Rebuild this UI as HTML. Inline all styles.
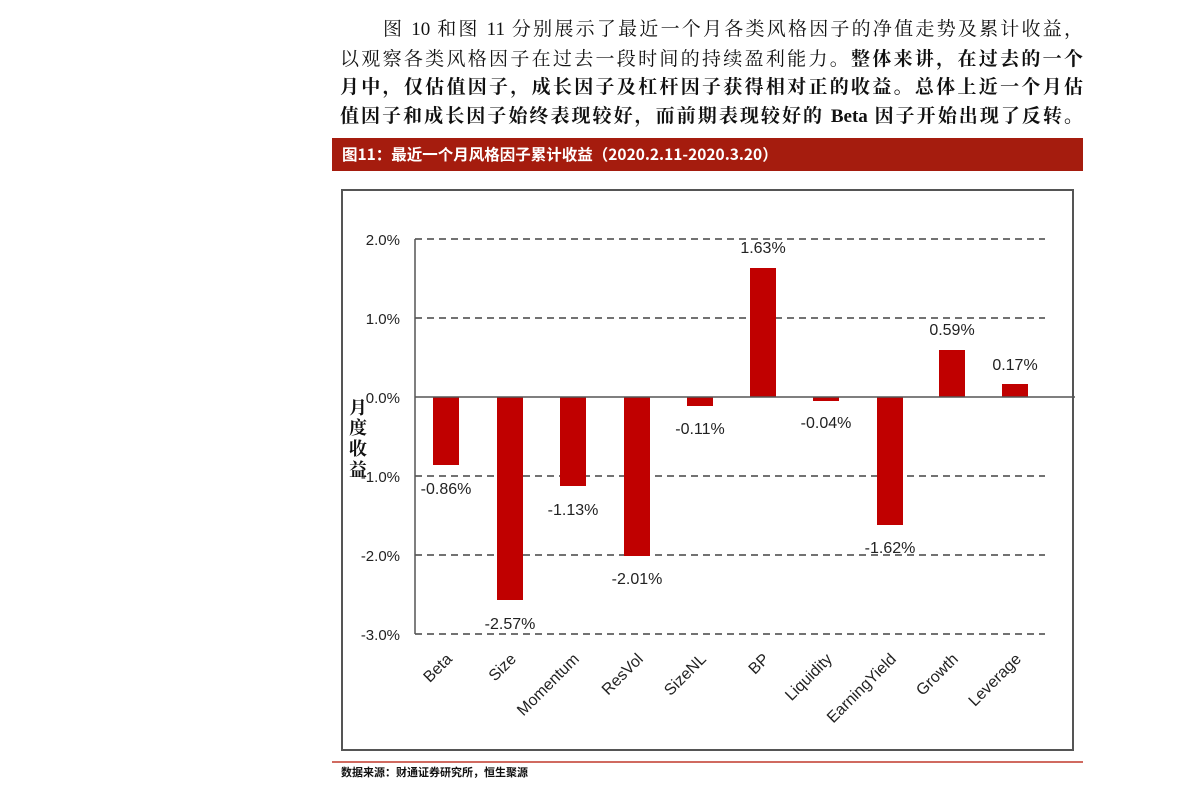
<!DOCTYPE html>
<html><head><meta charset="utf-8"><style>
body{margin:0;width:1191px;height:797px;background:#fff;position:relative;overflow:hidden;font-family:"Liberation Serif","Noto Serif CJK SC",serif}
.p{position:absolute;left:340px;width:743px;font-size:19px;color:#111;white-space:nowrap;text-align:justify;text-align-last:justify}
b{font-weight:bold}
</style></head><body>
<div class="p" style="left:383px;width:700px;top:14px">图 10 和图 11 分别展示了最近一个月各类风格因子的净值走势及累计收益，</div>
<div class="p" style="top:44px">以观察各类风格因子在过去一段时间的持续盈利能力。<b>整体来讲，在过去的一个</b></div>
<div class="p" style="top:72px"><b>月中，仅估值因子，成长因子及杠杆因子获得相对正的收益。总体上近一个月估</b></div>
<div class="p" style="top:101px"><b>值因子和成长因子始终表现较好，而前期表现较好的 Beta 因子开始出现了反转。</b></div>
<div style="position:absolute;left:332px;top:138px;width:751px;height:33px;background:#a51c0e;color:#fff;font:bold 15.5px 'Noto Sans CJK SC',sans-serif;line-height:33px;padding-left:10px;box-sizing:border-box">图11：最近一个月风格因子累计收益（2020.2.11-2020.3.20）</div>
<svg style="position:absolute;left:0;top:0" width="1191" height="797" font-family="Liberation Sans, sans-serif">
<rect x="342" y="190" width="731" height="560" fill="none" stroke="#555" stroke-width="2"/>
<g stroke="#444" stroke-width="1.5" stroke-dasharray="7,5">
<line x1="415" y1="239" x2="1045" y2="239"/><line x1="415" y1="318" x2="1045" y2="318"/>
<line x1="415" y1="476" x2="1045" y2="476"/><line x1="415" y1="555" x2="1045" y2="555"/><line x1="415" y1="634" x2="1045" y2="634"/>
</g>
<line x1="415" y1="239" x2="415" y2="634" stroke="#555" stroke-width="1.5"/>
<g font-size="15" fill="#222" text-anchor="end">
<text x="400" y="245">2.0%</text><text x="400" y="324">1.0%</text><text x="400" y="403">0.0%</text>
<text x="400" y="482">-1.0%</text><text x="400" y="561">-2.0%</text><text x="400" y="640">-3.0%</text></g>
<g fill="#c00000">
<rect x="433" y="397" width="26" height="68"/><rect x="497" y="397" width="26" height="203"/>
<rect x="560" y="397" width="26" height="89"/><rect x="624" y="397" width="26" height="159"/>
<rect x="687" y="397" width="26" height="9"/><rect x="750" y="268" width="26" height="129"/>
<rect x="813" y="397" width="26" height="4"/><rect x="877" y="397" width="26" height="128"/>
<rect x="939" y="350" width="26" height="47"/><rect x="1002" y="384" width="26" height="13"/></g>
<line x1="415" y1="397" x2="1075" y2="397" stroke="#555" stroke-width="1.5"/>
<g font-size="16" fill="#222" text-anchor="middle">
<text x="446" y="494">-0.86%</text><text x="510" y="629">-2.57%</text><text x="573" y="515">-1.13%</text>
<text x="637" y="584">-2.01%</text><text x="700" y="434">-0.11%</text><text x="763" y="253">1.63%</text>
<text x="826" y="428">-0.04%</text><text x="890" y="553">-1.62%</text><text x="952" y="335">0.59%</text><text x="1015" y="370">0.17%</text></g>
<g font-size="16" fill="#222" text-anchor="end">
<text transform="translate(453,660) rotate(-45)">Beta</text>
<text transform="translate(517,660) rotate(-45)">Size</text>
<text transform="translate(580,660) rotate(-45)">Momentum</text>
<text transform="translate(644,660) rotate(-45)">ResVol</text>
<text transform="translate(707,660) rotate(-45)">SizeNL</text>
<text transform="translate(770,660) rotate(-45)">BP</text>
<text transform="translate(833,660) rotate(-45)">Liquidity</text>
<text transform="translate(897,660) rotate(-45)">EarningYield</text>
<text transform="translate(959,660) rotate(-45)">Growth</text>
<text transform="translate(1022,660) rotate(-45)">Leverage</text></g>
<g font-family="Liberation Serif, Noto Serif CJK SC, serif" font-size="18" font-weight="bold" fill="#111" text-anchor="middle">
<text x="358" y="414">月</text><text x="358" y="434">度</text><text x="358" y="455">收</text><text x="358" y="476">益</text></g>
<line x1="332" y1="762" x2="1083" y2="762" stroke="#c0392b" stroke-width="1.5"/>
</svg>
<div style="position:absolute;left:341px;top:764px;font:bold 11px 'Noto Sans CJK SC',sans-serif;color:#111">数据来源：财通证券研究所，恒生聚源</div>
</body></html>
